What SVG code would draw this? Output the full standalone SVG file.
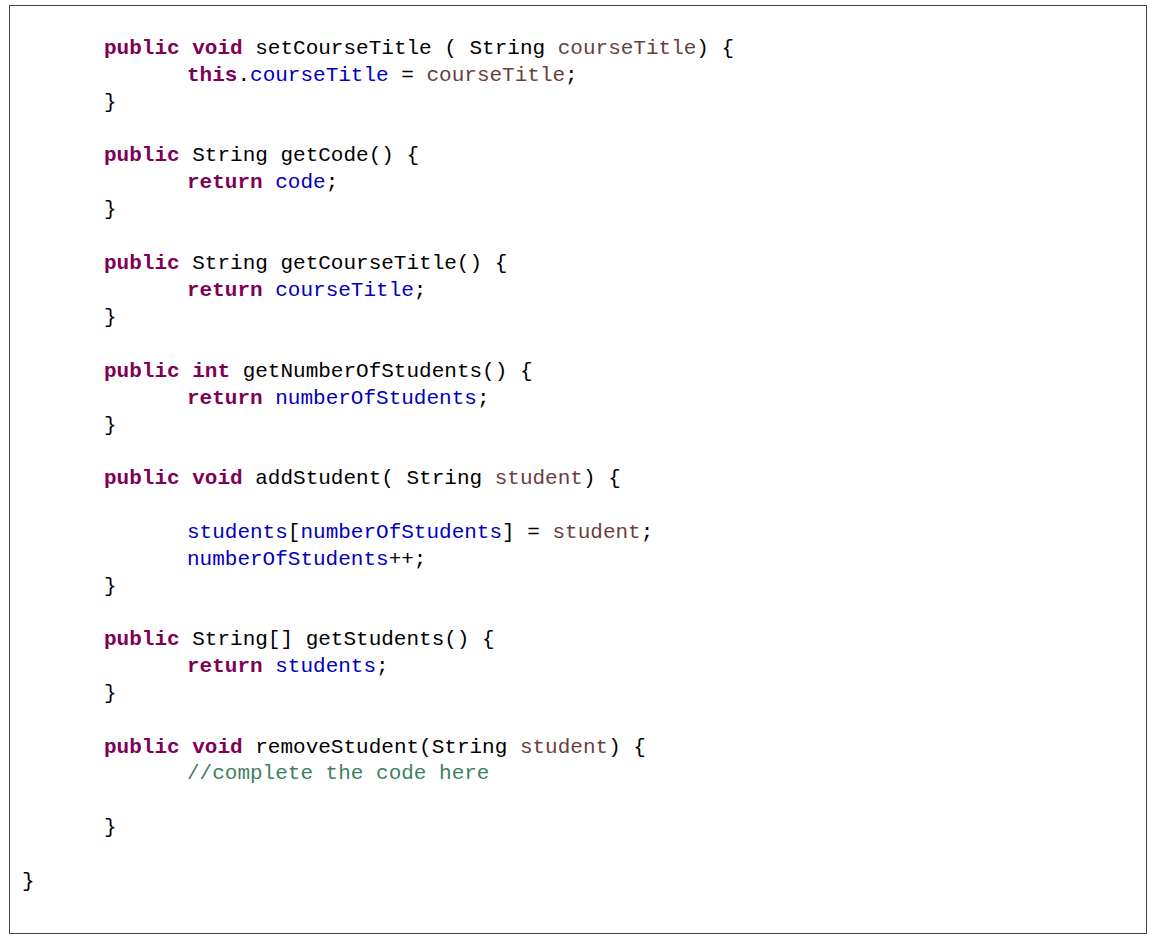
<svg xmlns="http://www.w3.org/2000/svg" width="1158" height="946" viewBox="0 0 1158 946">
<style>
text{font-family:"Liberation Mono","DejaVu Sans Mono",monospace;font-size:21px;fill:#000;white-space:pre}
.k{fill:#7f0055;font-weight:bold}.f{fill:#0000c0}.p{fill:#6a3e3e}.c{fill:#3f7f5f}
</style>
<rect x="9.5" y="5.5" width="1137" height="928" fill="#fff" stroke="#444" stroke-width="1"/>
<g id="code" xml:space="preserve">
<text x="104" y="54"><tspan class="k">public</tspan> <tspan class="k">void</tspan> setCourseTitle ( String <tspan class="p">courseTitle</tspan>) {</text>
<text x="187" y="81"><tspan class="k">this</tspan>.<tspan class="f">courseTitle</tspan> = <tspan class="p">courseTitle</tspan>;</text>
<text x="104" y="108">}</text>
<text x="104" y="161"><tspan class="k">public</tspan> String getCode() {</text>
<text x="187" y="188"><tspan class="k">return</tspan> <tspan class="f">code</tspan>;</text>
<text x="104" y="215">}</text>
<text x="104" y="269"><tspan class="k">public</tspan> String getCourseTitle() {</text>
<text x="187" y="296"><tspan class="k">return</tspan> <tspan class="f">courseTitle</tspan>;</text>
<text x="104" y="323">}</text>
<text x="104" y="377"><tspan class="k">public</tspan> <tspan class="k">int</tspan> getNumberOfStudents() {</text>
<text x="187" y="404"><tspan class="k">return</tspan> <tspan class="f">numberOfStudents</tspan>;</text>
<text x="104" y="431">}</text>
<text x="104" y="484"><tspan class="k">public</tspan> <tspan class="k">void</tspan> addStudent( String <tspan class="p">student</tspan>) {</text>
<text x="187" y="538"><tspan class="f">students</tspan>[<tspan class="f">numberOfStudents</tspan>] = <tspan class="p">student</tspan>;</text>
<text x="187" y="565"><tspan class="f">numberOfStudents</tspan>++;</text>
<text x="104" y="592">}</text>
<text x="104" y="645"><tspan class="k">public</tspan> String[] getStudents() {</text>
<text x="187" y="672"><tspan class="k">return</tspan> <tspan class="f">students</tspan>;</text>
<text x="104" y="699">}</text>
<text x="104" y="753"><tspan class="k">public</tspan> <tspan class="k">void</tspan> removeStudent(String <tspan class="p">student</tspan>) {</text>
<text x="187" y="779" class="c">//complete the code here</text>
<text x="104" y="833">}</text>
<text x="22" y="887">}</text>
</g>
</svg>
